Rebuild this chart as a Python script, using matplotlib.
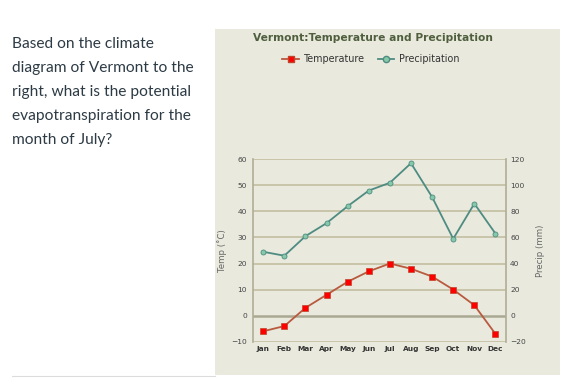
import matplotlib
matplotlib.use("Agg")
import matplotlib.pyplot as plt
from matplotlib.lines import Line2D

# monthly climate values
months = ["Jan", "Feb", "Mar", "Apr", "May", "Jun", "Jul", "Aug", "Sep", "Oct", "Nov", "Dec"]
temp = [-6, -4, 3, 8, 13, 17, 20, 18, 15, 10, 4, -7]          # degC
precip = [49, 46, 61, 71, 84, 96, 102, 117, 91, 59, 86, 63]  # mm

question = ["Based on the climate",
            "diagram of Vermont to the",
            "right, what is the potential",
            "evapotranspiration for the",
            "month of July?"]

W, H = 568, 382
fig = plt.figure(figsize=(W / 100, H / 100), dpi=100)
fig.patch.set_facecolor("white")

# question text on the left
for i, line in enumerate(question):
    fig.text(12 / W, 1 - (48 + 24 * i) / H, line, family="Lato", fontsize=11.2,
             color="#2d3b45", va="baseline", ha="left")
# thin rule under the question cell
fig.add_artist(Line2D([12 / W, 215 / W], [1 - 375.5 / H] * 2, color="#dcdcdc", lw=0.8))

# beige panel behind the chart
bg = fig.add_axes([215 / W, 1 - 375 / H, 345 / W, 346 / H])
bg.set_facecolor("#e9e9de")
bg.set_xticks([])
bg.set_yticks([])
for s in bg.spines.values():
    s.set_visible(False)

ax = fig.add_axes([252.7 / W, 1 - 341.7 / H, 253.3 / W, 182.4 / H])
ax.set_facecolor("#e9e9de")
x = list(range(len(months)))

# grid lines
for v in range(-10, 61, 10):
    if v == 0:
        ax.axhline(v, color="#a9a892", lw=1.8, zorder=1)
    else:
        ax.axhline(v, color="#c9c5aa", lw=1.4, zorder=1)

ax.plot(x, [p / 2 for p in precip], color="#4e8c82", lw=1.3, marker="o", ms=3.6,
        mfc="#86c9a9", mec="#4e8c82", mew=0.6, zorder=3)
ax.plot(x, temp, color="#b85a3e", lw=1.3, marker="s", ms=3.8,
        mfc="#ff0000", mec="#c0442a", mew=0.5, zorder=3)

ax.set_xlim(-0.5, 11.5)
ax.set_ylim(-10, 60)
ax.set_xticks(x)
ax.set_xticklabels(months, fontsize=5.3, fontweight="bold", color="#333333")
ax.set_yticks(range(-10, 61, 10))
ax.tick_params(axis="y", labelsize=5.4, colors="#444444", length=0, pad=4)
ax.tick_params(axis="x", length=0, pad=3)
for k, s in ax.spines.items():
    if k in ("left", "right"):
        s.set_color("#b0ae96")
        s.set_linewidth(1.2)
    else:
        s.set_visible(False)
ax.set_ylabel("Temp (˚C)", fontsize=6.2, color="#666666", labelpad=3)

ax2 = ax.twinx()
ax2.set_ylim(-20, 120)
ax2.set_yticks(range(-20, 121, 20))
ax2.tick_params(axis="y", labelsize=5.4, colors="#444444", length=0, pad=3)
for s in ax2.spines.values():
    s.set_visible(False)
ax2.set_ylabel("Precip (mm)", fontsize=6.2, color="#666666", labelpad=7)

# title and legend
fig.text(373 / W, 1 - 38 / H, "Vermont:Temperature and Precipitation", fontsize=7.7,
         fontweight="bold", color="#4f5f3e", ha="center", va="center")
handles = [Line2D([], [], color="#b85a3e", lw=1.3, marker="s", ms=5, mfc="#ff0000", mec="#c0442a"),
           Line2D([], [], color="#4e8c82", lw=1.3, marker="o", ms=4.5, mfc="#86c9a9", mec="#4e8c82")]
fig.legend(handles, ["Temperature", "Precipitation"], loc="center",
           bbox_to_anchor=(371 / W, 1 - 59 / H), ncol=2, frameon=False,
           fontsize=6.9, handlelength=1.7, columnspacing=1.4, handletextpad=0.5,
           labelcolor="#333333")

fig.savefig("out.png", dpi=100, facecolor="white")
